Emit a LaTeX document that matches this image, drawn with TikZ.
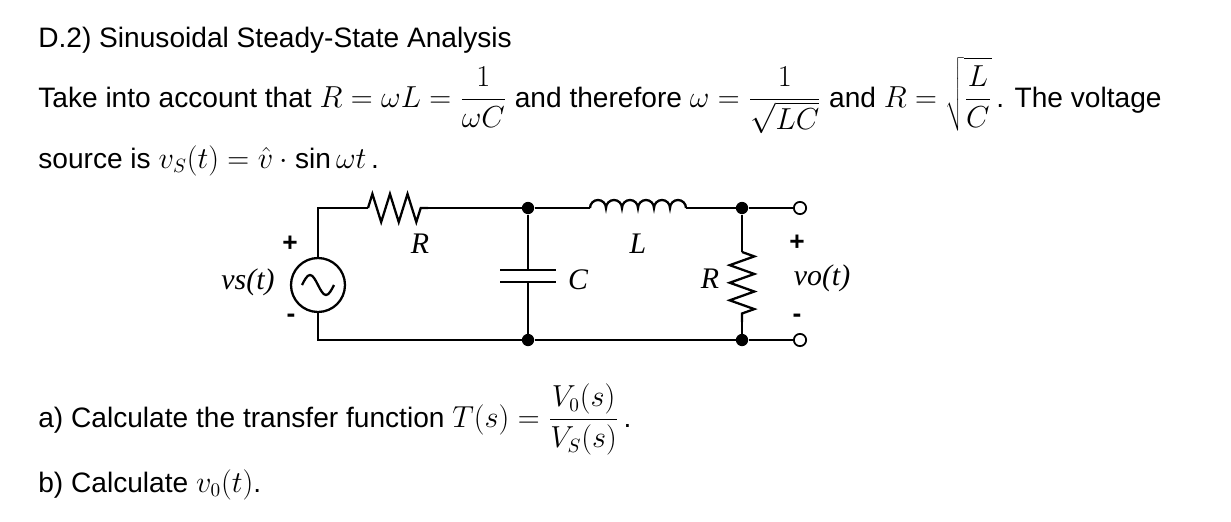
\documentclass[tikz,border=0pt]{standalone}
\usepackage{fontspec}
\setmainfont{Liberation Sans}
\newfontfamily\serifl{Liberation Serif}
\usetikzlibrary{decorations.pathmorphing,calc}
\begin{document}
\begin{tikzpicture}[x=0.02cm,y=-0.02cm,
  txt/.style={anchor=base west,inner sep=0,font=\fontsize{16}{20}\selectfont},
  lbl/.style={inner sep=0,font=\fontsize{17}{20}\selectfont\serifl\itshape},
  pm/.style={inner sep=0,font=\fontsize{15}{18}\selectfont\bfseries},
  dot/.style={circle,fill,inner sep=0,minimum size=7pt},
  term/.style={circle,draw,fill=white,inner sep=0,minimum size=7pt,line width=1pt},
  wire/.style={line width=1.3pt},
  zz/.style={decorate,decoration={zigzag,segment length=10,amplitude=8}}]
\useasboundingbox (0,0) rectangle (1231,521);
\node[txt] (t1) at (38,47) {D.2) Sinusoidal Steady-State Analysis};
\node[txt] (t2) at (38,107) {Take into account that $\displaystyle R=\omega L=\frac{1}{\omega C}$ and therefore $\displaystyle \omega=\frac{1}{\sqrt{LC}}$ and $\displaystyle R=\sqrt{\frac{L}{C}}$\,. The voltage};
\node[txt] (t3) at (38,168) {source is $v_S(t)=\hat v\cdot\sin\omega t$\,.};
\node[txt] (t4) at (38,427) {a) Calculate the transfer function $\displaystyle T(s)=\frac{V_0(s)}{V_S(s)}$\,.};
\node[txt] (t5) at (38,492) {b) Calculate $v_0(t)$.};
% nodes
\coordinate (tl) at (318,208);
\coordinate (bl) at (318,340);
\node[dot] (n1) at (528,208) {};
\node[dot] (n2) at (742,208) {};
\node[dot] (n3) at (528,340) {};
\node[dot] (n4) at (742,340) {};
\node[term] (o1) at (800,208) {};
\node[term] (o2) at (800,340) {};
\node[circle,draw,wire,minimum size=1.08cm,inner sep=0] (src) at (318,285) {};
\draw[wire] ($(src.center)+(-16,0)$) sin ($(src.center)+(-8,-10)$) cos (src.center) sin ($(src.center)+(8,10)$) cos ($(src.center)+(16,0)$);
% wires
\draw[wire] (src.north) -- (tl) -- (368,208);
\draw[wire,zz] (368,208) -- (428,208);
\draw[wire] (428,208) -- (n1) -- (590,208);
\draw[wire] (590,208) arc(180:360:8) arc(180:360:8) arc(180:360:8) arc(180:360:8) arc(180:360:8) arc(180:360:8);
\draw[wire] (686,208) -- (n2) -- (o1);
\draw[wire] (src.south) -- (bl) -- (n3) -- (n4) -- (o2);
\draw[wire] (n1) -- (528,270); \draw[wire] (500,270) -- (556,270);
\draw[wire] (500,282) -- (556,282); \draw[wire] (528,282) -- (n3);
\draw[wire] (n2) -- (742,252);
\draw[wire,decorate,decoration={zigzag,segment length=10,amplitude=7}] (742,252) -- (742,322);
\draw[wire] (742,322) -- (n4);
% labels
\node[lbl] (lR1) at (420,244) {R};
\node[lbl] (lL) at (638,244) {L};
\node[lbl] (lC) at (578,280) {C};
\node[lbl] (lR2) at (710,279) {R};
\node[lbl] (lvs) at (248,282) {vs(t)};
\node[lbl] (lvo) at (822,278) {vo(t)};
\node[pm] (p1) at (290,244) {+};
\node[pm] (m1) at (291,318) {-};
\node[pm] (p2) at (797,243) {+};
\node[pm] (m2) at (797,318) {-};
\end{tikzpicture}
\end{document}
